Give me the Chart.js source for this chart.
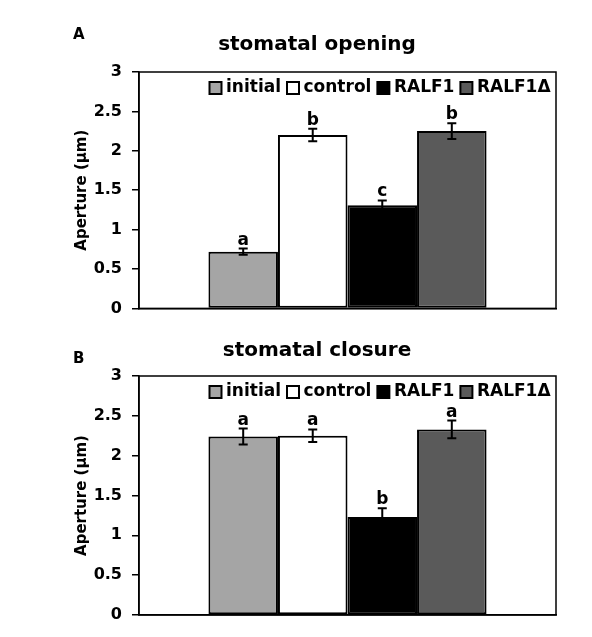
<!DOCTYPE html>
<html>
<head>
<meta charset="utf-8">
<script src="https://cdn.jsdelivr.net/npm/chart.js@4.4.1/dist/chart.umd.min.js"></script>
<style>
  body { margin: 0; background: #fff; }
  canvas { position: absolute; left: 0; }
  #chartA { top: 0; }
  #chartB { top: 328px; }
</style>
</head>
<body>
<canvas id="chartA" width="592" height="328"></canvas>
<canvas id="chartB" width="592" height="309"></canvas>
<script>
'use strict';
var seriesNames=['initial','control','RALF1','RALF1\u0394'];
var categories=[''];
var yTickLabels=['0','0.5','1','1.5','2','2.5','3'];
var openingValues=[0.72,2.20,1.31,2.25];
var openingErrors=[0.04,0.08,0.06,0.10];
var openingLetters=['a','b','c','b'];
var closureValues=[2.24,2.25,1.23,2.33];
var closureErrors=[0.10,0.08,0.11,0.11];
var closureLetters=['a','a','b','a'];
var barColors=['#a5a5a5','#ffffff','#000000','#5a5a5a'];
var fontFamily="'DejaVu Sans', sans-serif";

Chart.defaults.font.family=fontFamily;
Chart.defaults.font.weight='bold';
Chart.defaults.color='#000';

// legend goes inside the plot box, plus frame, error bars, letters and panel tag
function makeMarks(values,errors,letters,tag,tagY){
  return {
    id:'marks',
    afterLayout:function(chart){
      var lg=chart.legend, ca=chart.chartArea;
      lg.left=ca.left+64.5;
      lg.right=ca.right+30;
      lg.top=ca.top-2.5;
      lg.bottom=lg.top+32;
    },
    afterDatasetsDraw:function(chart){
      var ctx=chart.ctx, ca=chart.chartArea, y=chart.scales.y;
      ctx.save();
      ctx.strokeStyle='#000';
      ctx.lineWidth=1.5;
      ctx.strokeRect(ca.left,ca.top,ca.right-ca.left,ca.bottom-ca.top);
      ctx.lineWidth=2;
      ctx.fillStyle='#000';
      ctx.font='bold 17px '+fontFamily;
      ctx.textAlign='center';
      ctx.textBaseline='alphabetic';
      for(var i=0;i<values.length;i++){
        var bar=chart.getDatasetMeta(i).data[0];
        var hi=y.getPixelForValue(values[i]+errors[i]);
        var lo=y.getPixelForValue(values[i]-errors[i]);
        ctx.beginPath();
        ctx.moveTo(bar.x,hi); ctx.lineTo(bar.x,lo);
        ctx.moveTo(bar.x-4.5,hi); ctx.lineTo(bar.x+4.5,hi);
        ctx.moveTo(bar.x-4.5,lo); ctx.lineTo(bar.x+4.5,lo);
        ctx.stroke();
        ctx.fillText(letters[i],bar.x,hi-4);
      }
      ctx.font='bold 15px '+fontFamily;
      ctx.textAlign='left';
      ctx.fillText(tag,73,tagY);
      ctx.restore();
    }
  };
}

function drawPanel(id,title,values,errors,letters,tag,tagY,titlePad,bottomPad){
  var datasets=seriesNames.map(function(name,i){
    return {
      label:name,
      data:[values[i]],
      backgroundColor:barColors[i],
      borderColor:'#000',
      borderWidth:2,
      borderSkipped:false,
      categoryPercentage:0.667,
      barPercentage:1
    };
  });
  return new Chart(document.getElementById(id),{
    type:'bar',
    data:{labels:categories,datasets:datasets},
    options:{
      responsive:false,
      animation:false,
      layout:{padding:{left:78,right:36,top:0,bottom:bottomPad}},
      plugins:{
        title:{display:true,text:title,color:'#000',font:{size:20,weight:'bold'},padding:titlePad},
        legend:{
          position:'top',align:'start',fullSize:false,maxHeight:1,
          labels:{usePointStyle:true,pointStyle:'rect',boxWidth:4,boxHeight:12,padding:10,color:'#000',font:{size:17,weight:'bold'}}
        },
        tooltip:{enabled:false}
      },
      scales:{
        x:{
          grid:{display:false,drawTicks:false},
          border:{display:true,color:'#000',width:1.5},
          ticks:{display:false}
        },
        y:{
          min:0,max:3,
          ticks:{stepSize:0.5,padding:10,color:'#000',font:{size:16,weight:'bold'},
            callback:function(v,i){ return yTickLabels[i]; }},
          grid:{drawOnChartArea:false,drawTicks:true,tickLength:7,color:'#000',lineWidth:1.5},
          border:{display:true,color:'#000',width:1.5},
          title:{display:true,text:'Aperture (\u00b5m)',color:'#000',padding:0,font:{size:15,weight:'bold',lineHeight:0.5}},
          afterFit:function(s){ s.width=61; }
        }
      }
    },
    plugins:[makeMarks(values,errors,letters,tag,tagY)]
  });
}

drawPanel('chartA','stomatal opening',openingValues,openingErrors,openingLetters,'A',39,{top:33,bottom:14},0);
drawPanel('chartB','stomatal closure',closureValues,closureErrors,closureLetters,'B',34.7,{top:10.4,bottom:12.6},22);
</script>
</body>
</html>
